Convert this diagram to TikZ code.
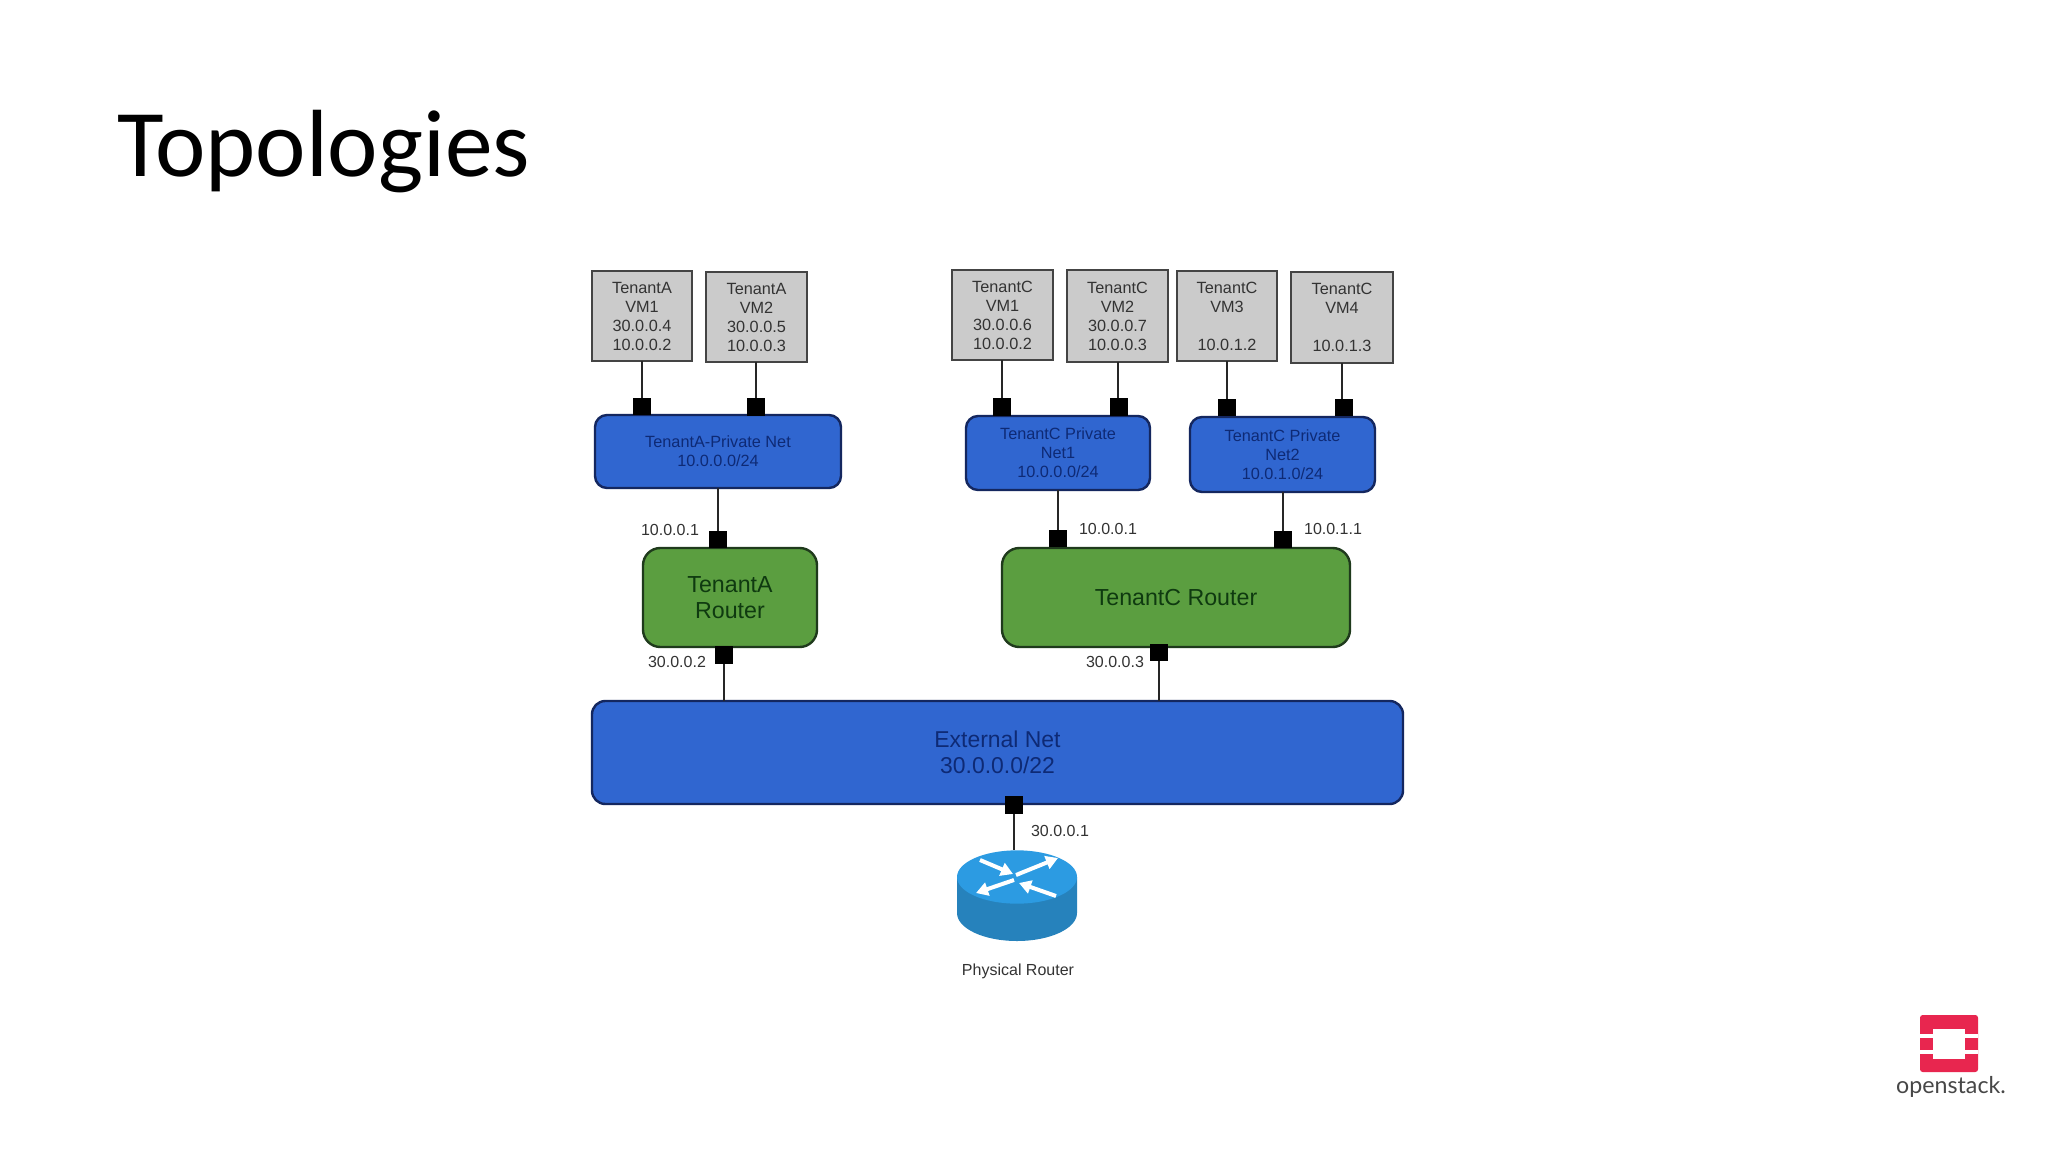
\documentclass[tikz,border=0pt]{standalone}
\usepackage{fontspec}
\setmainfont{Liberation Sans}
\newfontfamily\titlefont{Carlito}
\newfontfamily\logofont{Lato}
\usetikzlibrary{shapes.geometric,arrows.meta}
\definecolor{netblue}{HTML}{3066D0}
\definecolor{netedge}{HTML}{14275F}
\definecolor{nettext}{HTML}{0E2A75}
\definecolor{rtgreen}{HTML}{5B9E40}
\definecolor{rtedge}{HTML}{1F3A1C}
\definecolor{rttext}{HTML}{0F3A10}
\definecolor{vmgray}{HTML}{CBCBCB}
\definecolor{vmedge}{HTML}{444444}
\definecolor{lbl}{HTML}{333333}
\definecolor{osred}{HTML}{E8264F}
\definecolor{ostext}{HTML}{474747}
\definecolor{icontop}{HTML}{2C9BE2}
\definecolor{iconside}{HTML}{2682BC}
\tikzset{
  x=0.75pt,y=-0.75pt,
  smalltext/.style={font=\fontsize{12.2}{14.25}\selectfont,align=center},
  vmbox/.style={draw=vmedge,fill=vmgray,line width=1.8pt,text=lbl,smalltext},
  netbox/.style={draw=netedge,fill=netblue,line width=1.8pt,rounded corners=9pt,text=nettext,smalltext},
  extbox/.style={netbox,rounded corners=10pt,font=\fontsize{17.2}{19.5}\selectfont},
  rtbox/.style={draw=rtedge,fill=rtgreen,line width=1.8pt,rounded corners=13pt,text=rttext,align=center,font=\fontsize{17.4}{19.5}\selectfont},
  port/.style={fill=black,inner sep=0pt,outer sep=0pt,minimum width=13.5pt,minimum height=13pt},
  wire/.style={draw=black!85,line width=1.5pt},
  iplabel/.style={text=lbl,font=\fontsize{12}{14}\selectfont,inner sep=0pt},
  iconarrow/.style={draw=white,line width=3pt,-{Triangle[width=10pt,length=9pt]}}
}
\newcommand{\boxnode}[7]{%
  \node[#2,inner sep=0pt,outer sep=0pt,
        minimum width={(#5-#3)*0.75pt},minimum height={(#6-#4)*0.75pt}]
        (#1) at ({(#3+#5)/2},{(#4+#6)/2}) {#7};}
\begin{document}
\begin{tikzpicture}
\path[use as bounding box,fill=white] (0,0) rectangle (2048,1152);
\node[anchor=base west,inner sep=0pt,font=\fontsize{71.6}{80}\titlefont,text=black] (title) at (117,176) {Topologies};
% VMs
\boxnode{vmAa}{vmbox}{592}{271}{692}{361}{TenantA\\VM1\\30.0.0.4\\10.0.0.2}
\boxnode{vmAb}{vmbox}{706}{272}{807}{362}{TenantA\\VM2\\30.0.0.5\\10.0.0.3}
\boxnode{vmCa}{vmbox}{952}{270}{1053}{360}{TenantC\\VM1\\30.0.0.6\\10.0.0.2}
\boxnode{vmCb}{vmbox}{1067}{270}{1168}{362}{TenantC\\VM2\\30.0.0.7\\10.0.0.3}
\boxnode{vmCc}{vmbox}{1177}{271}{1277}{361}{TenantC\\VM3\\\mbox{}\\10.0.1.2}
\boxnode{vmCd}{vmbox}{1291}{272}{1393}{363}{TenantC\\VM4\\\mbox{}\\10.0.1.3}
% Nets
\boxnode{netA}{netbox}{595}{415}{841}{488}{TenantA-Private Net\\10.0.0.0/24}
\boxnode{netCa}{netbox}{966}{416}{1150}{490}{TenantC Private\\Net1\\10.0.0.0/24}
\boxnode{netCb}{netbox}{1190}{417}{1375}{492}{TenantC Private\\Net2\\10.0.1.0/24}
\boxnode{ext}{extbox}{592}{701}{1403}{804}{External Net\\30.0.0.0/22}
% Routers
\boxnode{rtA}{rtbox}{643}{548}{817}{647}{TenantA\\Router}
\boxnode{rtC}{rtbox}{1002}{548}{1350}{647}{TenantC Router}
% Physical router icon
\fill[iconside] (957,877) -- (957,913) arc[start angle=180,end angle=0,x radius=60,y radius=28] -- (1077,877) -- cycle;
\node[ellipse,fill=icontop,inner sep=0pt,outer sep=0pt,minimum width=90pt,minimum height=40pt] (phys) at (1017,877) {};
\draw[iconarrow] (980,860) -- (1013,874);
\draw[iconarrow] (1056,896) -- (1019,883);
\draw[iconarrow] (1016,875) -- (1058,858);
\draw[iconarrow] (1014,880) -- (976,893);
% Ports
\node[port] (pAa) at (642,406.5) {};
\node[port] (pAb) at (756,407) {};
\node[port] (pCa) at (1002,407) {};
\node[port] (pCb) at (1119,407) {};
\node[port] (pCc) at (1227,407.5) {};
\node[port] (pCd) at (1344,407.5) {};
\node[port] (pAup) at (717.5,539.5) {};
\node[port] (pCup) at (1058,538.5) {};
\node[port] (pCupb) at (1283,539.5) {};
\node[port] (pAdn) at (723.5,655) {};
\node[port] (pCdn) at (1159,652.5) {};
\node[port] (pEx) at (1014,805) {};
% Connectors
\draw[wire] (vmAa.south -| pAa) -- (pAa.north);
\draw[wire] (vmAb.south -| pAb) -- (pAb.north);
\draw[wire] (vmCa.south -| pCa) -- (pCa.north);
\draw[wire] (vmCb.south) -- (vmCb.south |- pCb.north);
\draw[wire] (vmCc.south -| pCc) -- (pCc.north);
\draw[wire] (vmCd.south) -- (vmCd.south |- pCd.north);
\draw[wire] (netA.south) -- (netA.south |- pAup.north);
\draw[wire] (netCa.south) -- (netCa.south |- pCup.north);
\draw[wire] (netCb.south) -- (netCb.south |- pCupb.north);
\draw[wire] (pAdn.south) -- (pAdn.south |- ext.north);
\draw[wire] (pCdn.south) -- (pCdn.south |- ext.north);
\draw[wire] (pEx.south) -- (pEx.south |- phys.north);
% Labels
\node[iplabel] (lAup) at (670,530) {10.0.0.1};
\node[iplabel] (lAdn) at (677,662) {30.0.0.2};
\node[iplabel] (lCa) at (1108,529) {10.0.0.1};
\node[iplabel] (lCb) at (1333,529) {10.0.1.1};
\node[iplabel] (lCdn) at (1115,662) {30.0.0.3};
\node[iplabel] (lEx) at (1060,831) {30.0.0.1};
\node[iplabel] (lPhys) at (1018,971) {Physical Router};
% Logo
\fill[osred,rounded corners=2pt] (1920,1015) rectangle (1978,1072);
\fill[white] (1920,1033.5) rectangle (1978,1037.5);
\fill[white] (1920,1049.5) rectangle (1978,1053.5);
\fill[white] (1933,1029) rectangle (1965,1059);
\node[anchor=base,inner sep=0pt,font=\fontsize{17.4}{20}\logofont,text=ostext] (oslogo) at (1951,1093) {openstack.};
\end{tikzpicture}
\end{document}
